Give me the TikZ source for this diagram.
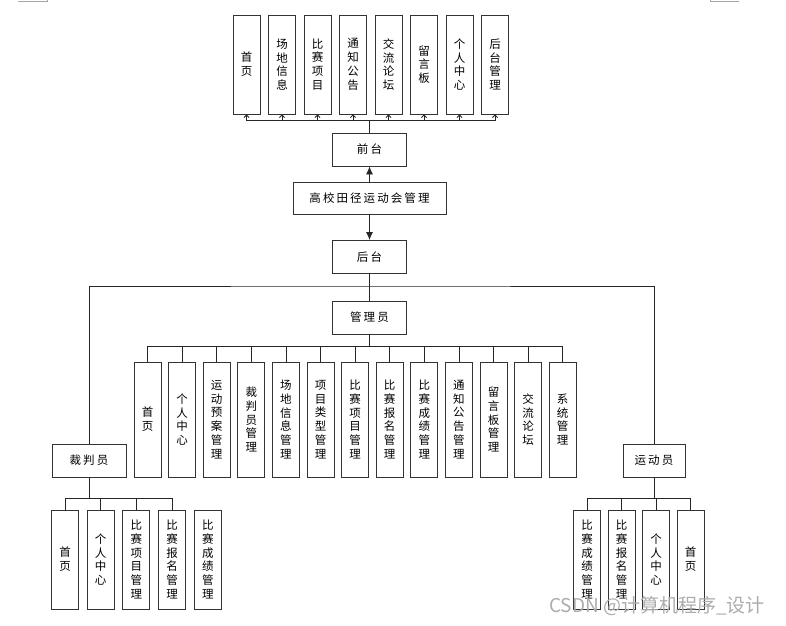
\documentclass[tikz,border=0pt]{standalone}
\usepackage{fontspec}
\setmainfont{Noto Sans CJK SC}
\newfontfamily\spaced[LetterSpace=18]{Noto Sans CJK SC}
\usetikzlibrary{positioning,arrows.meta}

\begin{document}
\begin{tikzpicture}[
        x=1pt, y=-1pt,
        font=\fontsize{11.5pt}{13.8pt}\selectfont,
        block/.style = {rectangle, draw=black!80, line width=0.9pt, minimum width=74pt, minimum height=33pt, inner sep=0pt, font=\spaced\fontsize{11.5pt}{13.8pt}\selectfont},
        tall/.style = {rectangle, draw=black!80, line width=0.9pt, minimum width=27pt, minimum height=99pt, inner sep=0pt, align=center},
        line/.style = {draw=black!85, line width=0.8pt},
        tip/.style = {line, -{Straight Barb[length=2.5pt,width=5pt]}},
        head/.style = {line, -{Latex[length=8pt,width=7pt]}}
    ]

    \useasboundingbox (0,0) rectangle (786,625);

    % centre
    \node [block, minimum width=153pt, minimum height=32pt] (xitong) at (369.5,198) {高校田径运动会管理};
    \node [block, above of=xitong, node distance=48.5pt] (qiantai) {前台};
    \node [block, below of=xitong, node distance=59pt] (houtai) {后台};
    \node [block, below of=houtai, node distance=60.5pt] (guanli) {管理员};
    \node [block] (caipan) at (89,460.5) {裁判员};
    \node [block, minimum width=62pt] (yundong) at (654,460.5) {运动员};

    % front pages
    \node [tall] (f1) at (246.5,64.5) {首\\页};
    \node [tall, right of=f1, node distance=35.5pt] (f2) {场\\地\\信\\息};
    \node [tall, right of=f2, node distance=35.5pt] (f3) {比\\赛\\项\\目};
    \node [tall, right of=f3, node distance=35.5pt] (f4) {通\\知\\公\\告};
    \node [tall, right of=f4, node distance=35.5pt] (f5) {交\\流\\论\\坛};
    \node [tall, right of=f5, node distance=35.5pt] (f6) {留\\言\\板};
    \node [tall, right of=f6, node distance=35.5pt] (f7) {个\\人\\中\\心};
    \node [tall, right of=f7, node distance=35.5pt] (f8) {后\\台\\管\\理};

    % admin pages
    \node [tall, minimum height=115pt] (g1) at (147.5,419.5) {首\\页};
    \node [tall, minimum height=115pt, right of=g1, node distance=34.6pt] (g2) {个\\人\\中\\心};
    \node [tall, minimum height=115pt, right of=g2, node distance=34.6pt] (g3) {运\\动\\预\\案\\管\\理};
    \node [tall, minimum height=115pt, right of=g3, node distance=34.6pt] (g4) {裁\\判\\员\\管\\理};
    \node [tall, minimum height=115pt, right of=g4, node distance=34.6pt] (g5) {场\\地\\信\\息\\管\\理};
    \node [tall, minimum height=115pt, right of=g5, node distance=34.6pt] (g6) {项\\目\\类\\型\\管\\理};
    \node [tall, minimum height=115pt, right of=g6, node distance=34.6pt] (g7) {比\\赛\\项\\目\\管\\理};
    \node [tall, minimum height=115pt, right of=g7, node distance=34.6pt] (g8) {比\\赛\\报\\名\\管\\理};
    \node [tall, minimum height=115pt, right of=g8, node distance=34.6pt] (g9) {比\\赛\\成\\绩\\管\\理};
    \node [tall, minimum height=115pt, right of=g9, node distance=34.6pt] (g10) {通\\知\\公\\告\\管\\理};
    \node [tall, minimum height=115pt, right of=g10, node distance=34.6pt] (g11) {留\\言\\板\\管\\理};
    \node [tall, minimum height=115pt, right of=g11, node distance=34.6pt] (g12) {交\\流\\论\\坛};
    \node [tall, minimum height=115pt, right of=g12, node distance=34.6pt] (g13) {系\\统\\管\\理};

    % judge pages
    \node [tall] (c1) at (65,559.5) {首\\页};
    \node [tall, right of=c1, node distance=35.7pt] (c2) {个\\人\\中\\心};
    \node [tall, right of=c2, node distance=35.7pt] (c3) {比\\赛\\项\\目\\管\\理};
    \node [tall, right of=c3, node distance=35.7pt] (c4) {比\\赛\\报\\名\\管\\理};
    \node [tall, right of=c4, node distance=35.7pt] (c5) {比\\赛\\成\\绩\\管\\理};

    % athlete pages
    \node [tall] (y1) at (587,559.5) {比\\赛\\成\\绩\\管\\理};
    \node [tall, right of=y1, node distance=34.5pt] (y2) {比\\赛\\报\\名\\管\\理};
    \node [tall, right of=y2, node distance=34.5pt] (y3) {个\\人\\中\\心};
    \node [tall, right of=y3, node distance=34.5pt] (y4) {首\\页};

    \coordinate (qbus) at (369.5,120);
    \coordinate (hbus) at (369.5,286);
    \coordinate (gbus) at (369.5,346);
    \coordinate (cbus) at (89,498);
    \coordinate (ybus) at (654,498);

    \path [head] (xitong) -- (qiantai);
    \path [head] (xitong) -- (houtai);
    \path [line] (qiantai) -- (qbus);
    \foreach \i in {1,...,8} \path [tip] (qbus) -| (f\i.south);

    \path [line] (houtai) -- (guanli);
    \path [line] (caipan.north) |- (hbus) -| (yundong.north);
    \path [line] (guanli) -- (gbus);
    \foreach \i in {1,...,13} \path [line] (gbus) -| (g\i.north);

    \path [line] (caipan) -- (cbus);
    \foreach \i in {1,...,4} \path [line] (cbus) -| (c\i.north);
    \path [line] (yundong) -- (ybus);
    \foreach \i in {1,...,4} \path [line] (ybus) -| (y\i.north);

    % page marks and watermark
    \draw [gray!70, line width=0.8pt] (18,1) -- (47,1) -- (47,0);
    \draw [gray!70, line width=0.8pt] (739,1) -- (710,1) -- (710,0);
    \node [anchor=west, inner sep=0pt, text=gray!65, font=\fontsize{19pt}{19pt}\selectfont] (mark) at (549,606) {CSDN @计算机程序\_设计};

\end{tikzpicture}
\end{document}
